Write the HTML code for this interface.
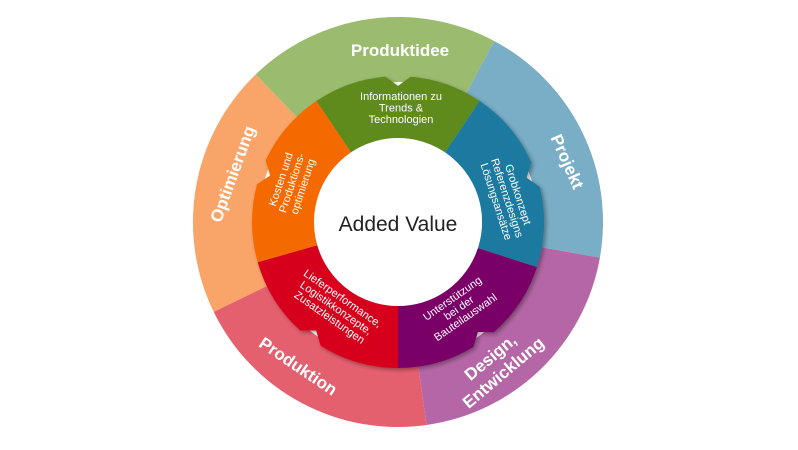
<!DOCTYPE html>
<html><head><meta charset="utf-8"><style>
html,body{margin:0;padding:0;background:#fff;width:798px;height:450px;overflow:hidden}
svg{display:block}
text{font-family:"Liberation Sans","DejaVu Sans",sans-serif;fill:#fff}
</style></head><body>
<svg id="s" width="798" height="450" viewBox="0 0 798 450">
<defs>
<filter id="sh" x="-20%" y="-20%" width="140%" height="140%"><feDropShadow dx="2" dy="2" stdDeviation="2" flood-color="#000" flood-opacity="0.35"/></filter>
</defs>
<g id="outer"></g>
<g id="inner" filter="url(#sh)"></g>
<circle cx="398" cy="222" r="84" fill="#fff"/>
<text x="398" y="231" font-size="21" text-anchor="middle" style="fill:#222">Added Value</text>
<text x="400" y="56" font-size="17" font-weight="bold" text-anchor="middle">Produktidee</text>
<text transform="translate(562,164) rotate(66)" font-size="17" font-weight="bold" text-anchor="middle">Projekt</text>
<text transform="translate(496,364) rotate(-40)" font-size="17" font-weight="bold" text-anchor="middle"><tspan x="0" y="-3">Design,</tspan><tspan x="0" y="17">Entwicklung</tspan></text>
<text transform="translate(295,371) rotate(34)" font-size="17" font-weight="bold" text-anchor="middle">Produktion</text>
<text transform="translate(238,176) rotate(-70)" font-size="17" font-weight="bold" text-anchor="middle">Optimierung</text>
<text font-size="11" text-anchor="middle"><tspan x="401" y="100">Informationen zu</tspan><tspan x="401" y="111.5">Trends &amp;</tspan><tspan x="401" y="123">Technologien</tspan></text>
<text transform="translate(507,198) rotate(72)" font-size="11" text-anchor="middle"><tspan x="0" y="-8">Grobkonzept</tspan><tspan x="0" y="3.5">Referenzdesigns</tspan><tspan x="0" y="15">Lösungsansätze</tspan></text>
<text transform="translate(459,308) rotate(-35)" font-size="11" text-anchor="middle"><tspan x="0" y="-8">Unterstützung</tspan><tspan x="0" y="3.5">bei der</tspan><tspan x="0" y="15">Bauteilauswahl</tspan></text>
<text transform="translate(336,308) rotate(35)" font-size="11" text-anchor="middle"><tspan x="0" y="-8">Lieferperformance,</tspan><tspan x="0" y="3.5">Logistikkonzepte,</tspan><tspan x="0" y="15">Zusatzleistungen</tspan></text>
<text transform="translate(292,183) rotate(-72)" font-size="11" text-anchor="middle"><tspan x="0" y="-8">Kosten und</tspan><tspan x="0" y="3.5">Produktions-</tspan><tspan x="0" y="15">optimierung</tspan></text>
</svg>
<script>
var cx=398,cy=222;
function P(r,a){a=a*Math.PI/180;return (cx+r*Math.sin(a)).toFixed(1)+","+(cy-r*Math.cos(a)).toFixed(1);}
function sector(r1,r2,a1,a2,notch){
  var d="M"+P(r2,a1);
  var m=(a1+a2)/2;
  if(notch){d+=" A"+r2+","+r2+" 0 0 1 "+P(r2,m-5)+" L"+P(r2-10,m)+" L"+P(r2,m+5)+" A"+r2+","+r2+" 0 0 1 "+P(r2,a2);}
  else d+=" A"+r2+","+r2+" 0 0 1 "+P(r2,a2);
  d+=" L"+P(r1,a2)+" A"+r1+","+r1+" 0 0 0 "+P(r1,a1)+" Z";
  return d;
}
var NS="http://www.w3.org/2000/svg";
function add(g,d,f){var p=document.createElementNS(NS,"path");p.setAttribute("d",d);p.setAttribute("fill",f);document.getElementById(g).appendChild(p);}
var ob=[316,28,100,172,244];
var oc=["#9bbb6f","#79aec6","#b566a6","#e5606f","#f9a56a"];
var ib=[326,34,108,180,254];
var ic=["#5e8a1c","#1f7aa0","#7a0068","#d6001c","#f56a00"];
for(var i=0;i<5;i++){
  var a1=ob[i],a2=ob[(i+1)%5];if(a2<a1)a2+=360;
  add("outer",sector(140,205,a1,a2,false),oc[i]);
}
for(var i=0;i<5;i++){
  var a1=ib[i],a2=ib[(i+1)%5];if(a2<a1)a2+=360;
  add("inner",sector(84,146,a1,a2,true),ic[i]);
}
</script>
</body></html>
